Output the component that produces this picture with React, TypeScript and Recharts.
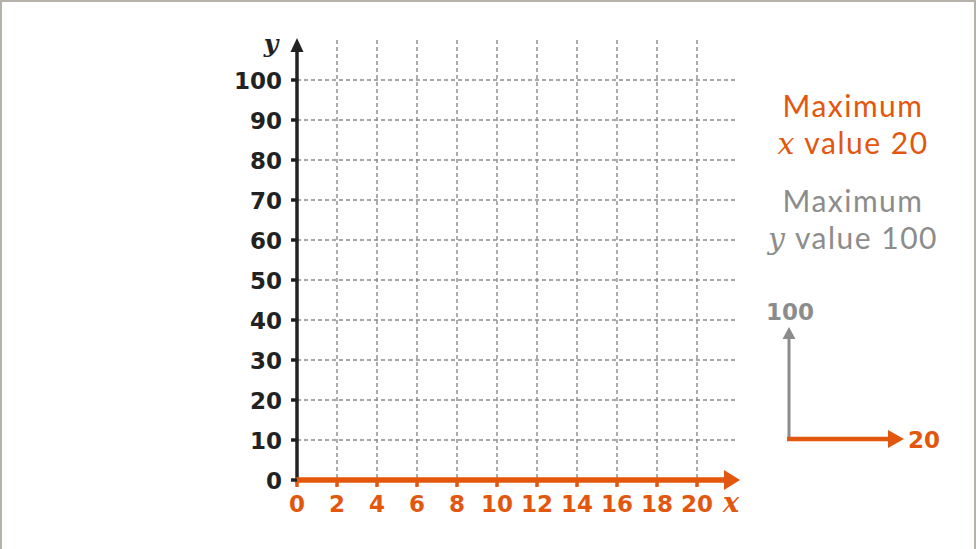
import React from 'react';
import { ComposedChart, XAxis, YAxis, CartesianGrid, ReferenceLine } from 'recharts';

// axis ranges and tick labels
const xTicks = [0, 2, 4, 6, 8, 10, 12, 14, 16, 18, 20];
const yTicks = [0, 10, 20, 30, 40, 50, 60, 70, 80, 90, 100];
const xDomain = [0, 22];
const yDomain = [0, 110];
const xMax = 20;
const yMax = 100;

const ORANGE = '#e3560e';
const GREY = '#8c8c8c';
const DARK = '#222222';
const TEXT = 'Lato, "Open Sans", sans-serif';
const NUM = '"DejaVu Sans", "Open Sans", sans-serif';
const SERIF = '"DejaVu Serif", "Liberation Serif", serif';

const chartData = xTicks.map((x, i) => ({ x, y: yTicks[i] }));

const XTick = (props: any) => {
  const { x, y, payload } = props;
  return (
    <text x={x} y={y} dy={17} textAnchor="middle" fill={ORANGE} style={{ fontFamily: NUM, fontSize: 23, fontWeight: 700 }}>
      {payload.value}
    </text>
  );
};

const YTick = (props: any) => {
  const { x, y, payload } = props;
  return (
    <text x={x} y={y} dy={8.5} textAnchor="end" fill={DARK} style={{ fontFamily: NUM, fontSize: 23, fontWeight: 700 }}>
      {payload.value}
    </text>
  );
};

const YArrow = (props: any) => {
  const { x1, y1, y2 } = props;
  const top = Math.min(y1, y2);
  const bottom = Math.max(y1, y2);
  return (
    <g>
      <line x1={x1} y1={bottom + 2} x2={x1} y2={top + 10} stroke={DARK} strokeWidth={3.5} />
      <polygon points={`${x1},${top - 2} ${x1 - 6.5},${top + 12} ${x1 + 6.5},${top + 12}`} fill={DARK} />
    </g>
  );
};

const XArrow = (props: any) => {
  const { x1, x2, y1 } = props;
  const left = Math.min(x1, x2);
  const right = Math.max(x1, x2);
  return (
    <g>
      <line x1={left - 2} y1={y1} x2={right - 10} y2={y1} stroke={ORANGE} strokeWidth={5.5} />
      <polygon points={`${right + 3},${y1} ${right - 13},${y1 - 10} ${right - 13},${y1 + 10}`} fill={ORANGE} />
    </g>
  );
};

export default function App() {
  return (
    <div
      style={{
        position: 'absolute',
        left: 0,
        top: 0,
        width: 976,
        height: 549,
        background: '#fff',
        boxSizing: 'border-box',
        borderLeft: '2px solid #b6b1a9',
        borderTop: '2px solid #b6b1a9',
        borderRight: '2px solid #b6b1a9',
        overflow: 'hidden',
      }}
    >
      <div style={{ position: 'absolute', left: -2, top: -2 }}>
        <ComposedChart
          width={976}
          height={549}
          data={chartData}
          margin={{ top: 40, right: 239, bottom: 0, left: 217 }}
        >
          <CartesianGrid
            stroke="#8a8a8a"
            strokeWidth={1.4}
            strokeDasharray="4 3"
            horizontalValues={yTicks.slice(1)}
            verticalValues={xTicks.slice(1)}
          />
          <XAxis
            dataKey="x"
            type="number"
            domain={xDomain}
            ticks={xTicks}
            interval={0}
            height={69}
            axisLine={false}
            tickLine={{ stroke: ORANGE, strokeWidth: 3.5 }}
            tickSize={7}
            tickMargin={8}
            tick={<XTick />}
          />
          <YAxis
            dataKey="y"
            type="number"
            domain={yDomain}
            ticks={yTicks}
            interval={0}
            width={80}
            axisLine={false}
            tickLine={{ stroke: DARK, strokeWidth: 3.5 }}
            tickSize={6}
            tickMargin={9}
            tick={<YTick />}
          />
          <ReferenceLine x={0} ifOverflow="visible" shape={YArrow} />
          <ReferenceLine y={0} ifOverflow="visible" shape={XArrow} />
        </ComposedChart>
      </div>
      <svg
        width={976}
        height={549}
        style={{ position: 'absolute', left: -2, top: -2, pointerEvents: 'none' }}
      >
        <text x={271} y={52} textAnchor="middle" fill={DARK} style={{ fontFamily: SERIF, fontStyle: 'italic', fontWeight: 700, fontSize: 25 }}>
          y
        </text>
        <text x={731} y={512} textAnchor="middle" fill={ORANGE} style={{ fontFamily: SERIF, fontStyle: 'italic', fontWeight: 700, fontSize: 27 }}>
          x
        </text>

        <text textAnchor="middle" fill={ORANGE} style={{ fontFamily: TEXT, fontSize: 30, letterSpacing: 1.5 }}>
          <tspan x={853} y={117}>Maximum</tspan>
          <tspan x={853} y={154}>
            <tspan style={{ fontFamily: SERIF, fontStyle: 'italic' }}>x</tspan> value {xMax}
          </tspan>
        </text>
        <text textAnchor="middle" fill={GREY} style={{ fontFamily: TEXT, fontSize: 30, letterSpacing: 1.5 }}>
          <tspan x={853} y={212}>Maximum</tspan>
          <tspan x={853} y={249}>
            <tspan style={{ fontFamily: SERIF, fontStyle: 'italic' }}>y</tspan> value {yMax}
          </tspan>
        </text>

        <line x1={789} y1={440} x2={789} y2={336} stroke={GREY} strokeWidth={3} />
        <polygon points="789,327 782.5,339 795.5,339" fill={GREY} />
        <text x={790} y={320} textAnchor="middle" fill={GREY} style={{ fontFamily: NUM, fontWeight: 700, fontSize: 23 }}>
          {yMax}
        </text>

        <line x1={787} y1={439} x2={892} y2={439} stroke={ORANGE} strokeWidth={4.5} />
        <polygon points="904,439 888,430 888,448" fill={ORANGE} />
        <text x={908} y={448} textAnchor="start" fill={ORANGE} style={{ fontFamily: NUM, fontWeight: 700, fontSize: 23 }}>
          {xMax}
        </text>
      </svg>
    </div>
  );
}
